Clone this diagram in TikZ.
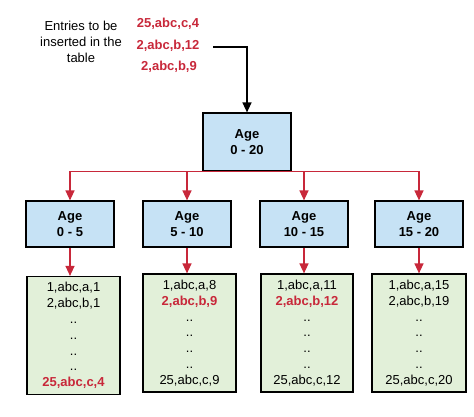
\documentclass[tikz,border=0pt]{standalone}
\usepackage{fontspec}
\setmainfont{Liberation Sans}
\usetikzlibrary{arrows.meta}
\definecolor{EntryRed}{RGB}{200,40,58}
\definecolor{AgeBlue}{RGB}{198,226,245}
\definecolor{LeafGreen}{RGB}{226,240,217}
\begin{document}
\begin{tikzpicture}[x=1pt, y=-1pt, every node/.style={font=\fontsize{13}{16}\selectfont},
	agebox/.style={draw, rectangle, fill=AgeBlue, line width=1.2pt, minimum width=88pt, minimum height=46pt, inner sep=0pt, align=center, font=\fontsize{13}{16}\selectfont\bfseries},
	leafbox/.style={draw, rectangle, fill=LeafGreen, line width=1.2pt, minimum width=93pt, minimum height=118pt, inner sep=0pt, align=center, font=\fontsize{13}{15.8}\selectfont},
	redarrow/.style={draw=EntryRed, line width=1.4pt, -{Triangle[width=9pt, length=10pt]}}]
	\useasboundingbox (0,0) rectangle (474,416);
	\node[align=center] (Entries) at (81, 42) {Entries to be\\inserted in the\\table};
	\node[text=EntryRed, font=\fontsize{13}{16}\selectfont\bfseries] (Entry1) at (168, 24) {25,abc,c,4};
	\node[text=EntryRed, font=\fontsize{13}{16}\selectfont\bfseries] (Entry2) at (168, 46) {2,abc,b,12};
	\node[text=EntryRed, font=\fontsize{13}{16}\selectfont\bfseries] (Entry3) at (169, 67) {2,abc,b,9};
	\coordinate (Start) at (213, 47);
	\node[agebox, minimum height=58pt] (Age 0-20) at (247, 142) {Age\\0 - 20};
	\node[agebox] (Age 0-5) at (70, 224) {Age\\0 - 5};
	\node[agebox] (Age 5-10) at (187, 224) {Age\\5 - 10};
	\node[agebox] (Age 10-15) at (304, 224) {Age\\10 - 15};
	\node[agebox] (Age 15-20) at (419, 224) {Age\\15 - 20};
	\node[leafbox] (Leaf 0-5) at (73.5, 335.5) {1,abc,a,1\\2,abc,b,1\\..\\..\\..\\..\\\textcolor{EntryRed}{\textbf{25,abc,c,4}}};
	\node[leafbox] (Leaf 5-10) at (189.5, 333) {1,abc,a,8\\\textcolor{EntryRed}{\textbf{2,abc,b,9}}\\..\\..\\..\\..\\25,abc,c,9};
	\node[leafbox, minimum width=92pt] (Leaf 10-15) at (307, 333) {1,abc,a,11\\\textcolor{EntryRed}{\textbf{2,abc,b,12}}\\..\\..\\..\\..\\25,abc,c,12};
	\node[leafbox, minimum width=94pt] (Leaf 15-20) at (419, 333) {1,abc,a,15\\2,abc,b,19\\..\\..\\..\\..\\25,abc,c,20};
	\draw[line width=1.4pt, -{Triangle[width=9pt, length=10pt]}] (Start) -| (Age 0-20.north);
	\draw[redarrow] (Age 0-20.south) -| (Age 0-5.north);
	\draw[redarrow] (Age 0-20.south) -| (Age 5-10.north);
	\draw[redarrow] (Age 0-20.south) -| (Age 10-15.north);
	\draw[redarrow] (Age 0-20.south) -| (Age 15-20.north);
	\draw[redarrow] (Age 0-5.south) -- (Age 0-5.south |- Leaf 0-5.north);
	\draw[redarrow] (Age 5-10.south) -- (Age 5-10.south |- Leaf 5-10.north);
	\draw[redarrow] (Age 10-15.south) -- (Age 10-15.south |- Leaf 10-15.north);
	\draw[redarrow] (Age 15-20.south) -- (Age 15-20.south |- Leaf 15-20.north);
\end{tikzpicture}
\end{document}
